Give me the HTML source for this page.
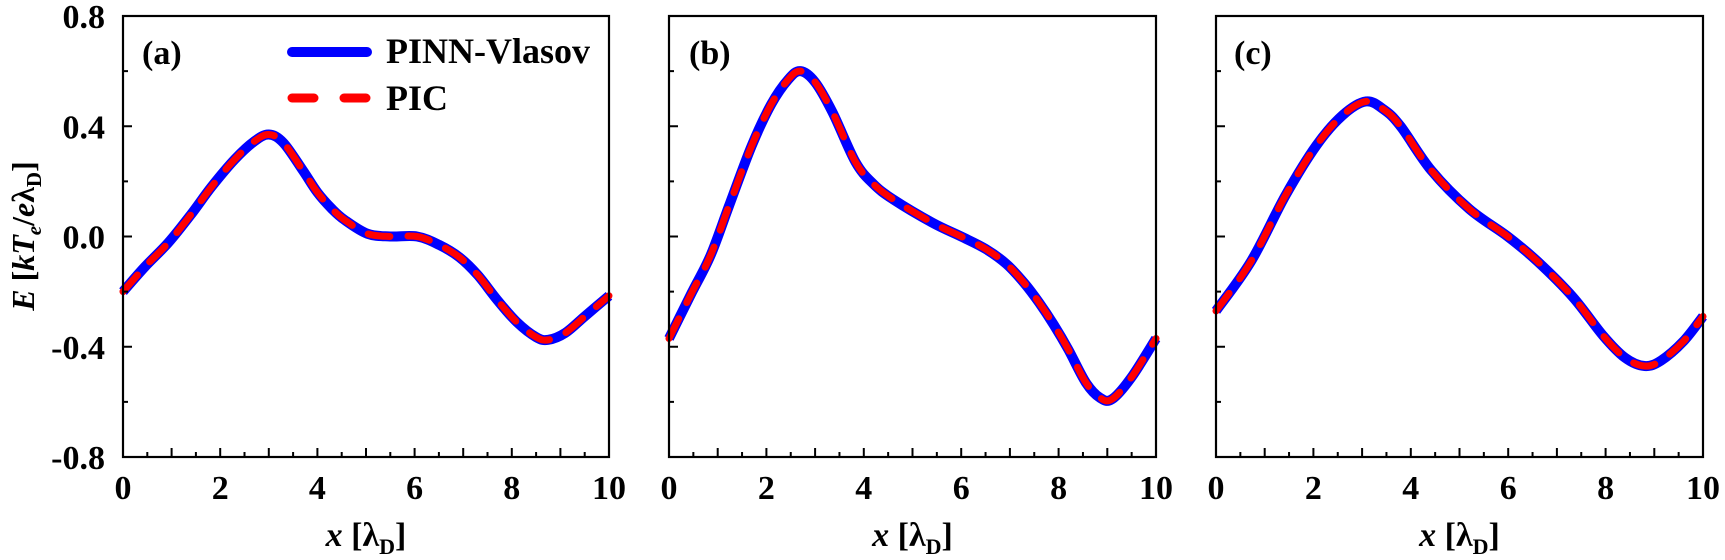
<!DOCTYPE html>
<html><head><meta charset="utf-8"><style>
html,body{margin:0;padding:0;background:#fff;}
svg{display:block;font-family:"Liberation Serif",serif;font-weight:bold;}
</style></head><body>
<svg id="s" width="1725" height="560" xmlns="http://www.w3.org/2000/svg"></svg>
<script>
(function(){
const s=document.getElementById('s');
const NS='http://www.w3.org/2000/svg';
function el(t,a,txt){const e=document.createElementNS(NS,t);for(const k in a)e.setAttribute(k,a[k]);if(txt!==undefined)e.textContent=txt;s.appendChild(e);return e;}
function tsp(parent,txt,a){const e=document.createElementNS(NS,'tspan');for(const k in (a||{}))e.setAttribute(k,a[k]);e.textContent=txt;parent.appendChild(e);return e;}
const TOP=16,BOT=457;
const panels=[
 {L:123,R:609,lab:'(a)',lx:142,data:[[0,-0.2],[0.45,-0.11],[0.93,-0.023],[1.4,0.08],[1.82,0.18],[2.3,0.28],[2.7,0.345],[3.0,0.37],[3.3,0.34],[3.7,0.24],[4.0,0.16],[4.3,0.1],[4.56,0.06],[5.03,0.01],[5.5,0.0],[6.05,0.0],[6.5,-0.03],[6.92,-0.075],[7.3,-0.14],[7.7,-0.23],[8.1,-0.31],[8.5,-0.365],[8.75,-0.375],[9.1,-0.35],[9.5,-0.29],[10,-0.215]]},
 {L:669,R:1156,lab:'(b)',lx:689,data:[[0,-0.37],[0.45,-0.21],[0.85,-0.07],[1.23,0.11],[1.7,0.33],[2.1,0.48],[2.45,0.57],[2.7,0.6],[3.0,0.56],[3.36,0.45],[3.83,0.27],[4.2,0.19],[4.6,0.135],[5.41,0.05],[6.0,0.0],[6.5,-0.045],[6.93,-0.1],[7.3,-0.17],[7.6,-0.24],[7.9,-0.32],[8.2,-0.41],[8.56,-0.53],[8.85,-0.585],[9.1,-0.59],[9.5,-0.51],[10,-0.37]]},
 {L:1216,R:1703,lab:'(c)',lx:1234,data:[[0,-0.27],[0.72,-0.09],[1.43,0.15],[2.06,0.33],[2.6,0.44],[3.08,0.49],[3.45,0.46],[3.79,0.4],[4.42,0.24],[5.2,0.1],[5.99,0.0],[6.6,-0.09],[7.33,-0.22],[7.95,-0.36],[8.4,-0.44],[8.8,-0.47],[9.14,-0.45],[9.6,-0.38],[10,-0.29]]}
];
function Y(v){return TOP+(0.8-v)/1.6*(BOT-TOP);}
function path(pts){let d='M'+pts[0][0]+','+pts[0][1];for(let i=0;i<pts.length-1;i++){const p0=pts[Math.max(0,i-1)],p1=pts[i],p2=pts[i+1],p3=pts[Math.min(pts.length-1,i+2)];const c1=[p1[0]+(p2[0]-p0[0])/6,p1[1]+(p2[1]-p0[1])/6],c2=[p2[0]-(p3[0]-p1[0])/6,p2[1]-(p3[1]-p1[1])/6];d+=' C'+c1.join(',')+' '+c2.join(',')+' '+p2.join(',');}return d;}
panels.forEach(function(p,pi){
 const X=function(v){return p.L+v/10*(p.R-p.L);};
 const pts=p.data.map(function(d){return [X(d[0]),Y(d[1])];});
 const d=path(pts);
 el('path',{d:d,fill:'none',stroke:'#0000ff','stroke-width':10,'stroke-linejoin':'round'});
 el('path',{d:d,fill:'none',stroke:'#ff0000','stroke-width':7,'stroke-dasharray':'22 18','stroke-linecap':'round'});
 el('rect',{x:p.L,y:TOP,width:p.R-p.L,height:BOT-TOP,fill:'none',stroke:'#000','stroke-width':2.2});
 for(let i=0;i<=20;i++){const x=X(i/2);const len=i%2?5:9;el('line',{x1:x,y1:BOT,x2:x,y2:BOT-len,stroke:'#000','stroke-width':2});
  if(i%4==0)el('text',{x:x,y:499,'font-size':34,'text-anchor':'middle'},String(i/2));}
 for(let i=0;i<=8;i++){const v=-0.8+i*0.2;const y=Y(v);const len=i%2?5:9;el('line',{x1:p.L,y1:y,x2:p.L+len,y2:y,stroke:'#000','stroke-width':2});
  if(pi==0&&i%2==0)el('text',{x:105,y:y+12,'font-size':34,'text-anchor':'end'},v.toFixed(1));}
 el('text',{x:p.lx,y:64,'font-size':34},p.lab);
 const t=el('text',{x:(p.L+p.R)/2,y:546,'font-size':34,'text-anchor':'middle'});
 tsp(t,'x',{'font-style':'italic'});tsp(t,' [λ');tsp(t,'D',{'font-size':22,dy:8});tsp(t,']',{dy:-8});
});
el('line',{x1:292,y1:52,x2:367,y2:52,stroke:'#0000ff','stroke-width':10,'stroke-linecap':'round'});
el('line',{x1:292,y1:98,x2:367,y2:98,stroke:'#ff0000','stroke-width':9,'stroke-linecap':'round','stroke-dasharray':'22 30'});
el('text',{x:386,y:63,'font-size':36},'PINN-Vlasov');
el('text',{x:386,y:110,'font-size':36},'PIC');
const yt=el('text',{x:0,y:0,'font-size':32,'text-anchor':'middle',transform:'translate(34,236) rotate(-90)'});
tsp(yt,'E',{'font-style':'italic'});tsp(yt,' [');tsp(yt,'kT',{'font-style':'italic'});tsp(yt,'e',{'font-style':'italic','font-size':21,dy:7});tsp(yt,'/',{dy:-7});tsp(yt,'e',{'font-style':'italic'});tsp(yt,'λ');tsp(yt,'D',{'font-size':21,dy:7});tsp(yt,']',{dy:-7});
})();
</script>
</body></html>
